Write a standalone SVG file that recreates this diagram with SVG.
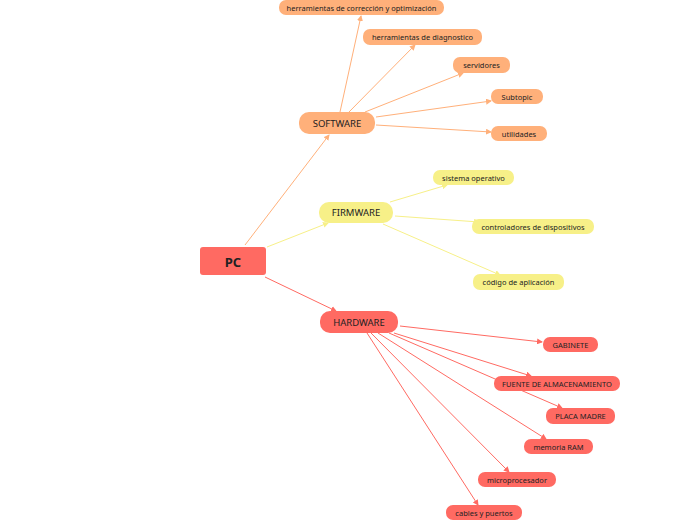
<svg xmlns="http://www.w3.org/2000/svg" width="696" height="520" viewBox="0 0 696 520">
<style>
text{font-family:"Noto Sans","Open Sans",sans-serif;fill:#222;text-anchor:middle;dominant-baseline:central}
.s{font-size:7.5px}.m{font-size:9.5px}
.o{fill:#ffb07a}.y{fill:#f7f088}.r{fill:#ff6a62}
.co{stroke:#ffb07a}.cy{stroke:#f7f088}.cr{stroke:#ff6a62}
#c line{stroke-width:1;fill:none}
</style>
<defs>
<marker id="ao" markerWidth="6" markerHeight="6" refX="5" refY="3" orient="auto" markerUnits="userSpaceOnUse"><path d="M0,0L6,3L0,6z" fill="#ffb07a"/></marker>
<marker id="ay" markerWidth="6" markerHeight="6" refX="5" refY="3" orient="auto" markerUnits="userSpaceOnUse"><path d="M0,0L6,3L0,6z" fill="#f7f088"/></marker>
<marker id="ar" markerWidth="6" markerHeight="6" refX="5" refY="3" orient="auto" markerUnits="userSpaceOnUse"><path d="M0,0L6,3L0,6z" fill="#ff6a62"/></marker>
</defs>
<rect width="696" height="520" fill="#fff"/>
<g id="c">
<line class="co" x1="245" y1="245" x2="329" y2="135" marker-end="url(#ao)"/>
<line class="cy" x1="267" y1="247" x2="328" y2="223" marker-end="url(#ay)"/>
<line class="cr" x1="265" y1="277" x2="336" y2="311" marker-end="url(#ar)"/>
<line class="co" x1="340" y1="112" x2="361" y2="16" marker-end="url(#ao)"/>
<line class="co" x1="349" y1="112" x2="415" y2="45" marker-end="url(#ao)"/>
<line class="co" x1="365" y1="112" x2="463" y2="73" marker-end="url(#ao)"/>
<line class="co" x1="376" y1="117" x2="491" y2="101" marker-end="url(#ao)"/>
<line class="co" x1="376" y1="125" x2="491" y2="132" marker-end="url(#ao)"/>
<line class="cy" x1="390" y1="202" x2="447" y2="185" marker-end="url(#ay)"/>
<line class="cy" x1="395" y1="216" x2="479" y2="222" marker-end="url(#ay)"/>
<line class="cy" x1="383" y1="224" x2="500" y2="275" marker-end="url(#ay)"/>
<line class="cr" x1="400" y1="326" x2="542" y2="342" marker-end="url(#ar)"/>
<line class="cr" x1="394" y1="333" x2="531" y2="376" marker-end="url(#ar)"/>
<line class="cr" x1="389" y1="333" x2="562" y2="408" marker-end="url(#ar)"/>
<line class="cr" x1="378" y1="333" x2="546" y2="439" marker-end="url(#ar)"/>
<line class="cr" x1="371" y1="333" x2="509" y2="472" marker-end="url(#ar)"/>
<line class="cr" x1="367" y1="333" x2="478" y2="505" marker-end="url(#ar)"/>
</g>
<g id="pc"><rect class="r" x="200" y="247" width="66" height="28" rx="3"/><text x="233" y="261.5" style="font-size:13px;font-weight:bold" fill="#111">PC</text></g>
<g id="software"><rect class="o" x="299" y="112" width="76" height="22" rx="10"/><text class="m" x="337" y="123">SOFTWARE</text></g>
<g id="corr"><rect class="o" x="279" y="0" width="165" height="15" rx="7"/><text class="s" x="361.5" y="7.5">herramientas de corrección y optimización</text></g>
<g id="diag"><rect class="o" x="363" y="29" width="119" height="16" rx="7"/><text class="s" x="422.5" y="37">herramientas de diagnostico</text></g>
<g id="serv"><rect class="o" x="453" y="57" width="57" height="16" rx="7"/><text class="s" x="481.5" y="65">servidores</text></g>
<g id="sub"><rect class="o" x="491" y="89" width="52" height="15" rx="7"/><text class="s" x="517" y="96.5">Subtopic</text></g>
<g id="util"><rect class="o" x="491" y="126" width="56" height="15" rx="7"/><text class="s" x="519" y="133.5">utilidades</text></g>
<g id="firmware"><rect class="y" x="319" y="202" width="74" height="21" rx="10"/><text class="m" x="356" y="212.5">FIRMWARE</text></g>
<g id="so"><rect class="y" x="433" y="170" width="81" height="15" rx="7"/><text class="s" x="473.5" y="177.5">sistema operativo</text></g>
<g id="ctrl"><rect class="y" x="472" y="219" width="122" height="15" rx="7"/><text class="s" x="533" y="226.5">controladores de dispositivos</text></g>
<g id="cod"><rect class="y" x="473" y="274" width="91" height="16" rx="7"/><text class="s" x="518.5" y="282">código de aplicación</text></g>
<g id="hardware"><rect class="r" x="320" y="311" width="78" height="22" rx="10"/><text class="m" x="359" y="322">HARDWARE</text></g>
<g id="gab"><rect class="r" x="543" y="337" width="55" height="15" rx="7"/><text class="s" x="570.5" y="344.5">GABINETE</text></g>
<g id="fuente"><rect class="r" x="494" y="376" width="126" height="15" rx="7"/><text class="s" x="557" y="383.5">FUENTE DE ALMACENAMIENTO</text></g>
<g id="placa"><rect class="r" x="546" y="408" width="69" height="16" rx="7"/><text class="s" x="580.5" y="416">PLACA MADRE</text></g>
<g id="ram"><rect class="r" x="524" y="439" width="69" height="15" rx="7"/><text class="s" x="558.5" y="446.5">memoria RAM</text></g>
<g id="micro"><rect class="r" x="478" y="472" width="78" height="15" rx="7"/><text class="s" x="517" y="479.5">microprocesador</text></g>
<g id="cables"><rect class="r" x="446" y="505" width="76" height="15" rx="7"/><text class="s" x="484" y="512.5">cables y puertos</text></g>
</svg>
